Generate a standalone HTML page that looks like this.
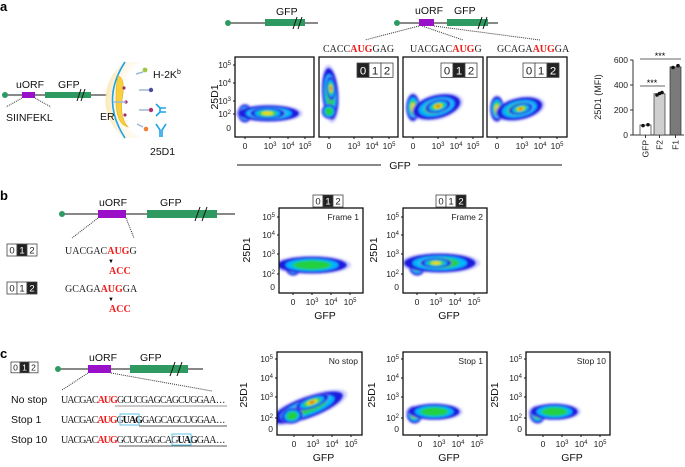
<!DOCTYPE html>
<html><head><meta charset="utf-8"><style>
html,body{margin:0;padding:0;background:#fff}
svg{display:block;font-family:"Liberation Sans",sans-serif}
.sq{font-family:"Liberation Serif",serif;font-size:10px;fill:#222}
.red{fill:#f21d1d;font-weight:bold}
.t{font-size:8.5px;fill:#222}
.lb{font-size:10.5px;fill:#111}
</style></head><body>
<svg id="fig" width="685" height="467" viewBox="0 0 685 467" xmlns="http://www.w3.org/2000/svg">
<defs>
<filter id="bl" x="-50%" y="-50%" width="200%" height="200%"><feGaussianBlur stdDeviation="1.0"/></filter>
<radialGradient id="cellg" cx="0.9" cy="0.5" r="0.9"><stop offset="0.4" stop-color="#fff"/><stop offset="1" stop-color="#fbe3a8"/></radialGradient>
</defs>
<text x="0" y="11" font-weight="bold" font-size="13">a</text>
<text x="0" y="200" font-weight="bold" font-size="13">b</text>
<text x="0" y="358" font-weight="bold" font-size="13">c</text>

<g>
<line x1="5" y1="95" x2="107" y2="95" stroke="#111" stroke-width="1"/>
<circle cx="5" cy="95" r="3" fill="#2e9a62"/>
<rect x="22" y="92" width="13" height="6" fill="#9a10c8"/>
<rect x="45" y="92" width="46" height="6" fill="#2e9a62"/>
<line x1="77" y1="101" x2="81" y2="89" stroke="#111"/><line x1="81" y1="101" x2="85" y2="89" stroke="#111"/>
<text x="16" y="88" class="lb">uORF</text><text x="58" y="88" class="lb">GFP</text>
<line x1="22" y1="98" x2="6" y2="107" stroke="#333" stroke-dasharray="1,1"/><line x1="35" y1="98" x2="51" y2="107" stroke="#333" stroke-dasharray="1,1"/>
<text x="6" y="121" class="lb">SIINFEKL</text>
</g>
<g>
<path d="M124,62 A48,48 0 0 0 124,138 L140,138 A48,48 0 0 1 140,62 Z" fill="url(#cellg)" opacity="0.8"/>
<path d="M125,62 Q100,100 125,138" fill="none" stroke="#1da4e8" stroke-width="1.6"/>
<path d="M118,76 Q126,78 122,100 Q120,118 128,127 Q116,124 116,100 Q116,84 118,76 Z" fill="#f8cf3c" stroke="#e0b020" stroke-width="0.6"/>
<circle cx="124" cy="88" r="1.6" fill="#a0306e"/><circle cx="126" cy="102" r="1.6" fill="#a0306e"/><circle cx="125" cy="115" r="1.6" fill="#a0306e"/>
<g stroke="#9cb8d8" stroke-width="1.5" fill="none">
<path d="M136,74 L143,72"/><path d="M139,90 L149,90"/><path d="M139,110 L149,110"/><path d="M137,124 L143,127"/><path d="M114,102 L126,102"/>
</g>
<circle cx="145" cy="70" r="2.4" fill="#9cc83c"/><circle cx="151" cy="90" r="2.2" fill="#4c4ca0"/><circle cx="151" cy="110" r="2.2" fill="#b0306e"/><circle cx="146" cy="129" r="2.3" fill="#f08030"/>
<g stroke="#1da4e8" stroke-width="1.6" fill="none">
<path d="M156,104 L160,108 L166,108 M156,116 L160,112 L166,112 M160,108 L160,112"/>
<path d="M156,124 L160,130 L160,137 M166,124 L162,130 L162,137"/>
</g>
<text x="153" y="78" class="lb">H-2K<tspan dy="-4" font-size="7">b</tspan></text>
<text x="100" y="120" class="lb">ER</text>
<text x="150" y="155" class="lb">25D1</text>
</g>

<g>
<line x1="228" y1="23" x2="318" y2="23" stroke="#111"/><circle cx="228" cy="23" r="3" fill="#2e9a62"/>
<rect x="265" y="19" width="40" height="7" fill="#2e9a62"/>
<line x1="293" y1="29" x2="297" y2="17" stroke="#111"/><line x1="298" y1="29" x2="302" y2="17" stroke="#111"/>
<text x="276" y="15" class="lb">GFP</text>
</g>
<g>
<line x1="397" y1="23" x2="498" y2="23" stroke="#111"/><circle cx="397" cy="23" r="3" fill="#2e9a62"/>
<rect x="419" y="19" width="15" height="7" fill="#9a10c8"/><rect x="447" y="19" width="41" height="7" fill="#2e9a62"/>
<line x1="478" y1="29" x2="482" y2="17" stroke="#111"/><line x1="483" y1="29" x2="487" y2="17" stroke="#111"/>
<text x="415" y="14" class="lb">uORF</text><text x="454" y="14" class="lb">GFP</text>
<g stroke="#333" stroke-dasharray="1,1"><line x1="419" y1="26" x2="365" y2="40"/><line x1="422" y1="26" x2="463" y2="40"/><line x1="434" y1="26" x2="540" y2="40"/></g>
<text x="323" y="52" class="sq" font-size="11">CACC<tspan class="red">AUG</tspan>GAG</text>
<text x="410" y="52" class="sq" font-size="11">UACGAC<tspan class="red">AUG</tspan>G</text>
<text x="497" y="52" class="sq" font-size="11">GCAGA<tspan class="red">AUG</tspan>GA</text>
</g>
<line x1="237" y1="165" x2="381" y2="165" stroke="#111"/>
<line x1="418" y1="165" x2="562" y2="165" stroke="#111"/>
<text x="400" y="169" class="lb" text-anchor="middle">GFP</text>

<g>
<line x1="62" y1="214" x2="235" y2="214" stroke="#111"/><circle cx="62" cy="214" r="3" fill="#2e9a62"/>
<rect x="98" y="210" width="28" height="8" fill="#9a10c8"/><rect x="147" y="210" width="70" height="8" fill="#2e9a62"/>
<line x1="195" y1="221" x2="200" y2="207" stroke="#111"/><line x1="202" y1="221" x2="207" y2="207" stroke="#111"/>
<text x="99" y="206" class="lb">uORF</text><text x="160" y="206" class="lb">GFP</text>
<g stroke="#333" stroke-dasharray="1,1"><line x1="98" y1="218" x2="72" y2="238"/><line x1="126" y1="218" x2="134" y2="238"/></g>
<text x="65" y="254" class="sq">UACGAC<tspan class="red">AUG</tspan>G</text>
<text x="108" y="263" font-size="6">▼</text>
<text x="109" y="274" class="sq red">ACC</text>
<text x="65" y="292" class="sq">GCAGA<tspan class="red">AUG</tspan>GA</text>
<text x="108" y="301" font-size="6">▼</text>
<text x="109" y="312" class="sq red">ACC</text>
</g>

<g>
<line x1="58" y1="369" x2="203" y2="369" stroke="#111"/><circle cx="58" cy="369" r="3" fill="#2e9a62"/>
<rect x="88" y="365" width="23" height="8" fill="#9a10c8"/><rect x="130" y="365" width="58" height="8" fill="#2e9a62"/>
<line x1="170" y1="376" x2="175" y2="362" stroke="#111"/><line x1="177" y1="376" x2="182" y2="362" stroke="#111"/>
<text x="89" y="361" class="lb">uORF</text><text x="140" y="361" class="lb">GFP</text>
<g stroke="#333" stroke-dasharray="1,1"><line x1="88" y1="373" x2="62" y2="390"/><line x1="111" y1="373" x2="212" y2="391"/></g>
<text x="11" y="403" class="lb">No stop</text><text x="11" y="423" class="lb">Stop 1</text><text x="11" y="443" class="lb">Stop 10</text>
<text x="61" y="403" class="sq" font-size="9" textLength="164">UACGAC<tspan class="red">AUG</tspan>GCUCGAGCAGCUGGAA . . .</text>
<text x="61" y="423" class="sq" font-size="9" textLength="164">UACGAC<tspan class="red">AUG</tspan>G<tspan font-weight="bold" fill="#111">UAG</tspan>GAGCAGCUGGAA . . .</text>
<text x="61" y="443" class="sq" font-size="9" textLength="164">UACGAC<tspan class="red">AUG</tspan>GCUCGAGCAG<tspan font-weight="bold" fill="#111">UAG</tspan>GAA . . .</text>
<line x1="115" y1="406" x2="227" y2="406" stroke="#aaa" stroke-width="1.2"/>
<line x1="139" y1="426" x2="227" y2="426" stroke="#555"/>
<line x1="119" y1="446" x2="227" y2="446" stroke="#555"/>
<rect x="120" y="414" width="19" height="11" fill="none" stroke="#5cc4e8"/>
<rect x="172" y="434" width="19" height="11" fill="none" stroke="#5cc4e8"/>
</g>
<g id="plots"></g>
<g id="bars"></g>
</svg>
<script>
// flow blob data: [xLog, yLog, rxDecades, ryDecades, rotationDeg, peakLevel]
const blobsA1 = [[1.0,2.05,0.4,0.5,0,5],[2.9,2.05,1.7,0.45,0,3],[2.8,2.05,0.95,0.3,0,4]];
const blobsA2 = [[1.1,3.4,0.45,1.45,-4,3],[1.15,3.7,0.25,0.65,-4,5],[1.0,2.2,0.4,0.4,0,3]];
const blobsA3 = [[1.0,2.5,0.38,0.75,0,4],[2.9,2.55,1.35,0.65,-14,3],[3.0,2.6,0.7,0.35,-14,5]];
const blobsA4 = [[1.0,2.4,0.38,0.7,0,4],[2.8,2.4,1.3,0.6,-12,3],[2.9,2.4,0.65,0.3,-12,5]];
const blobsB1 = [[1.0,2.35,0.42,0.45,-20,5],[3.0,2.45,1.85,0.45,0,3]];
const blobsB2 = [[1.0,2.35,0.42,0.45,-20,5],[3.2,2.55,1.9,0.5,0,3],[3.0,2.55,0.8,0.25,0,4]];
const blobsC1 = [[2.4,2.5,2.0,0.55,-20,3],[2.9,2.75,0.9,0.3,-20,5],[0.8,2.1,0.55,0.4,-10,3]];
const blobsC2 = [[0.4,2.15,0.4,0.45,-10,5],[2.5,2.3,1.35,0.42,0,3]];
const blobsC3 = [[0.4,2.15,0.4,0.45,-10,5],[2.2,2.3,1.25,0.42,0,3]];
const xTickVals = [1,3,4,5];
const yTickVals = [1,2,3,4,5];
const barCats = ['GFP','F2','F1'];
const barVals = [80,330,545];
const barPts = [[75,82],[320,332,340],[540,555]];
const barTicks = [0,200,400,600];

const NS='http://www.w3.org/2000/svg';
function mk(tag,attrs,parent){const e=document.createElementNS(NS,tag);for(const k in attrs)e.setAttribute(k,attrs[k]);if(parent)parent.appendChild(e);return e;}
function interp(knots,v){
  for(let i=0;i<knots.length-1;i++){const a=knots[i],b=knots[i+1];if(v<=b[0]||i==knots.length-2){return a[1]+(v-a[0])*(b[1]-a[1])/(b[0]-a[0]);}}
}
function tickText(v,x,y,anchor,g){
  const t=mk('text',{x:x,y:y,'text-anchor':anchor,class:'t'},g);
  if(v===1){t.textContent='0';}else{t.textContent='10';const s=mk('tspan',{dy:-3,'font-size':6},t);s.textContent=String(v);}
  return t;
}
const colors=[['#a0a0ff',1.12,0.45],['#1a1ae0',1.0,1],['#00b8ff',0.75,1],['#20d040',0.55,1],['#f0e010',0.35,1],['#e82010',0.18,1]];
function flow(name,x0,y0,w,h,xk,yk,blobs,opt){
  const root=document.getElementById('plots');
  const g=mk('g',{},root);
  
  
  const xs=v=>x0+interp(xk,v), ys=v=>y0+interp(yk,v);
  const dx=(xs(4)-xs(3)), dy=(ys(3)-ys(4));
  const clip=mk('clipPath',{id:'c'+name},g);mk('rect',{x:x0,y:y0,width:w,height:h},clip);
  const bg=mk('g',{'clip-path':'url(#c'+name+')'},g);
  const bf=mk('g',{filter:'url(#bl)'},bg);
  for(const b of blobs){
    const cx=xs(b[0]),cy=ys(b[1]);
    for(let L=0;L<colors.length;L++){
      if(L>b[5])break;
      const c=colors[L];
      const el=mk('ellipse',{cx:cx,cy:cy,rx:b[2]*dx*c[1],ry:b[3]*dy*c[1],fill:c[0],opacity:c[2],transform:'rotate('+b[4]+' '+cx+' '+cy+')'},bf);
      
      
    }
  }
  const fr=mk('rect',{x:x0,y:y0,width:w,height:h,fill:'none',stroke:'#111','stroke-width':1.3},g);
  
  
  if(opt.yt){for(const v of yTickVals){const y=ys(v);if(v>1)mk('line',{x1:x0-2,x2:x0,y1:y,y2:y,stroke:'#111'},g);const t=tickText(v,x0-4,y+3,'end',g);}}
  for(const v of xTickVals){const x=xs(v);mk('line',{x1:x,x2:x,y1:y0+h,y2:y0+h+2,stroke:'#111'},g);const t=tickText(v,x,y0+h+opt.xl,'middle',g);}
  if(opt.ylab){const t=mk('text',{x:0,y:0,transform:'translate('+opt.ylab[0]+','+opt.ylab[1]+') rotate(-90)','text-anchor':'middle',class:'lb'},g);t.textContent='25D1';}
  if(opt.xlab){const t=mk('text',{x:x0+w/2+4,y:opt.xlab,'text-anchor':'middle',class:'lb'},g);t.textContent='GFP';}
  if(opt.title){const t=mk('text',{x:x0+w-4,y:y0+12,'text-anchor':'end','font-size':8.5,fill:'#222'},g);t.textContent=opt.title;}
  if(opt.frame!==undefined){frameBox(g,opt.fx,opt.fy,opt.frame,opt.fs||12);}
}
function frameBox(g,x,y,dark,s){
  const bx=mk('g',{},g);
  
  
  for(let i=0;i<3;i++){
    mk('rect',{x:x+i*s,y:y,width:s,height:s*1.2,fill:i===dark?'#222':'#fff',stroke:'#444','stroke-width':0.8},bx);
    const t=mk('text',{x:x+i*s+s/2,y:y+s*0.95,'text-anchor':'middle','font-size':s*0.95,fill:i===dark?'#fff':'#222'},bx);t.textContent=String(i);
  }
}
const kxA=[[1,10],[3,35],[4,53],[5,70]], kyA=[[1,71],[2,57],[3,44],[4,26],[5,8]];
flow('flow-a-gfp',235,57,79,80,kxA,kyA,blobsA1,{yt:1,xl:12,ylab:[218,97]});
flow('flow-a-frame0',319,57,79,80,kxA,kyA,blobsA2,{xl:12,frame:0,fx:357,fy:63});
flow('flow-a-frame1',403,57,80,80,kxA,kyA,blobsA3,{xl:12,frame:1,fx:441,fy:63});
flow('flow-a-frame2',487,57,80,80,kxA,kyA,blobsA4,{xl:12,frame:2,fx:523,fy:63});
const kxB=[[1,14],[3,33],[4,52],[5,71]], kyB=[[1,79],[2,66],[3,46],[4,27],[5,9]];
flow('flow-b-frame1',279,208,84,85,kxB,kyB,blobsB1,{yt:1,xl:12,ylab:[250,250],xlab:319,title:'Frame 1'});
flow('flow-b-frame2',403,208,84,85,kxB,kyB,blobsB2,{yt:1,xl:12,ylab:[377,250],xlab:319,title:'Frame 2'});
const kxC=[[1,17],[3,36],[4,55],[5,74]], kyC=[[1,77],[2,66],[3,45],[4,26],[5,7]];
flow('flow-c-nostop',277,352,85,83,kxC,kyC,blobsC1,{yt:1,xl:12,ylab:[247,395],xlab:461,title:'No stop'});
flow('flow-c-stop1',403,352,84,83,kxC,kyC,blobsC2,{yt:1,xl:12,ylab:[375,395],xlab:461,title:'Stop 1'});
flow('flow-c-stop10',526,352,84,83,kxC,kyC,blobsC3,{yt:1,xl:12,ylab:[498,395],xlab:461,title:'Stop 10'});
const fig=document.getElementById('fig');
frameBox(fig,313,195,1,10);frameBox(fig,436,195,2,10);
frameBox(fig,7,244,1,10);frameBox(fig,7,282,2,10);
frameBox(fig,11,362,1,9);

(function(){
  const g=document.getElementById('bars');
  
  
  const X0=633,Y0=135,Y1=60;
  const ys=v=>Y0-(v/600)*(Y0-Y1);
  const bx=[640,654,670], bw=11, fills=['#fff','#cfcfcf','#7a7a7a'];
  mk('line',{x1:X0,x2:X0,y1:Y1,y2:Y0,stroke:'#333'},g);
  mk('line',{x1:X0,x2:684,y1:Y0,y2:Y0,stroke:'#333'},g);
  for(const v of barTicks){const y=ys(v);mk('line',{x1:X0-3,x2:X0,y1:y,y2:y,stroke:'#333'},g);const t=mk('text',{x:X0-5,y:y+3,'text-anchor':'end',class:'t'},g);t.textContent=String(v);}
  const yt=mk('text',{transform:'translate(601,97) rotate(-90)','text-anchor':'middle','font-size':9,fill:'#222'},g);yt.textContent='25D1 (MFI)';
  
  
  barCats.forEach((c,i)=>{
    const r=mk('rect',{x:bx[i],y:ys(barVals[i]),width:bw,height:Y0-ys(barVals[i]),fill:fills[i],stroke:'#333','stroke-width':0.7},g);
    
    
    barPts[i].forEach((p,j)=>{const d=mk('circle',{cx:bx[i]+3+j*(5/Math.max(1,barPts[i].length-1)),cy:ys(p),r:1.8,fill:'#111'},g);});
    mk('line',{x1:bx[i]+bw/2,x2:bx[i]+bw/2,y1:Y0,y2:Y0+3,stroke:'#333'},g);
    const t=mk('text',{transform:'translate('+(bx[i]+bw/2+3)+','+(Y0+5)+') rotate(-90)','text-anchor':'end',class:'t','font-size':9},g);t.textContent=c;
    
    
  });
  mk('line',{x1:640,x2:665,y1:86,y2:86,stroke:'#333','stroke-width':0.7},g);
  mk('line',{x1:640,x2:681,y1:59,y2:59,stroke:'#333','stroke-width':0.7},g);
  const s1=mk('text',{x:652,y:86,'text-anchor':'middle','font-size':9},g);s1.textContent='***';
  
  
  const s2=mk('text',{x:660,y:59,'text-anchor':'middle','font-size':9},g);s2.textContent='***';
  
  
})();
</script>
</body></html>
